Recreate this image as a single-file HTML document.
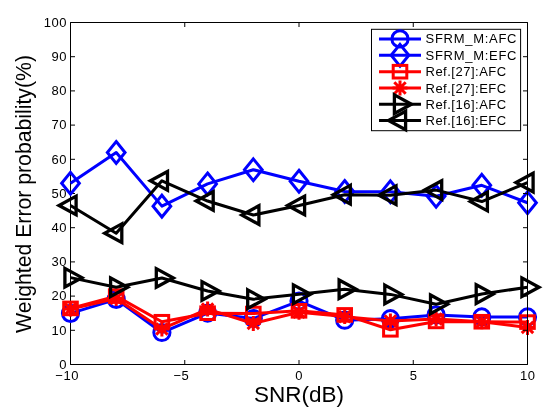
<!DOCTYPE html>
<html><head><meta charset="utf-8"><title>plot</title>
<style>
html,body{margin:0;padding:0;background:#fff;}
#fig{position:relative;width:550px;height:414px;overflow:hidden;background:#fff;font-family:"Liberation Sans",Arial,Helvetica,sans-serif;color:#000;}
.yt{position:absolute;left:21.0px;width:46px;text-align:right;letter-spacing:0.5px;font-size:13px;line-height:16px;height:16px;}
.xt{position:absolute;top:368.2px;width:40px;text-align:center;letter-spacing:0.5px;font-size:13px;line-height:16px;height:16px;}
.lg{position:absolute;left:425.5px;font-size:13px;line-height:16px;height:16px;letter-spacing:0.5px;white-space:nowrap;}
.lg.w{letter-spacing:0.72px;}
#xl{position:absolute;left:199.0px;width:200px;text-align:center;top:381.6px;font-size:22.5px;line-height:26px;white-space:nowrap;}
#yl{position:absolute;left:24px;top:193.5px;width:0;height:0;}
#yl span{position:absolute;display:block;width:320px;left:-160px;top:-13px;height:26px;line-height:26px;text-align:center;font-size:21.5px;white-space:nowrap;transform:rotate(-90deg) scale(0.987,1.06);transform-origin:50% 50%;}
</style></head><body>
<div id="fig">
<svg width="550" height="414" viewBox="0 0 550 414" style="position:absolute;left:0;top:0">
<rect width="550" height="414" fill="#fff"/>
<path d="M70.5 22.5V364.5H527.5" fill="none" stroke="#000" stroke-width="1"/>
<path d="M70.5 364.50h4.5M70.5 330.30h4.5M70.5 296.10h4.5M70.5 261.90h4.5M70.5 227.70h4.5M70.5 193.50h4.5M70.5 159.30h4.5M70.5 125.10h4.5M70.5 90.90h4.5M70.5 56.70h4.5M70.5 22.50h4.5M70.50 364.5v-4.5M184.75 364.5v-4.5M299.00 364.5v-4.5M413.25 364.5v-4.5M527.50 364.5v-4.5" fill="none" stroke="#000" stroke-width="1"/>
<polyline points="70.50,313.37 116.20,299.35 161.90,332.52 207.60,313.03 253.30,318.50 299.00,301.06 344.70,320.21 390.40,318.67 436.10,314.91 481.80,316.96 527.50,316.96" fill="none" stroke="#0000ff" stroke-width="3.0" stroke-linejoin="round"/>
<circle cx="70.50" cy="313.37" r="8.1" fill="none" stroke="#0000ff" stroke-width="3.0"/>
<circle cx="116.20" cy="299.35" r="8.1" fill="none" stroke="#0000ff" stroke-width="3.0"/>
<circle cx="161.90" cy="332.52" r="8.1" fill="none" stroke="#0000ff" stroke-width="3.0"/>
<circle cx="207.60" cy="313.03" r="8.1" fill="none" stroke="#0000ff" stroke-width="3.0"/>
<circle cx="253.30" cy="318.50" r="8.1" fill="none" stroke="#0000ff" stroke-width="3.0"/>
<circle cx="299.00" cy="301.06" r="8.1" fill="none" stroke="#0000ff" stroke-width="3.0"/>
<circle cx="344.70" cy="320.21" r="8.1" fill="none" stroke="#0000ff" stroke-width="3.0"/>
<circle cx="390.40" cy="318.67" r="8.1" fill="none" stroke="#0000ff" stroke-width="3.0"/>
<circle cx="436.10" cy="314.91" r="8.1" fill="none" stroke="#0000ff" stroke-width="3.0"/>
<circle cx="481.80" cy="316.96" r="8.1" fill="none" stroke="#0000ff" stroke-width="3.0"/>
<circle cx="527.50" cy="316.96" r="8.1" fill="none" stroke="#0000ff" stroke-width="3.0"/>
<polyline points="70.50,183.24 116.20,152.46 161.90,206.15 207.60,183.92 253.30,169.73 299.00,181.19 344.70,191.45 390.40,191.79 436.10,196.24 481.80,185.29 527.50,202.73" fill="none" stroke="#0000ff" stroke-width="3.0" stroke-linejoin="round"/>
<path d="M70.50 172.34L79.35 183.24L70.50 194.14L61.65 183.24Z" fill="none" stroke="#0000ff" stroke-width="3.0"/>
<path d="M116.20 141.56L125.05 152.46L116.20 163.36L107.35 152.46Z" fill="none" stroke="#0000ff" stroke-width="3.0"/>
<path d="M161.90 195.25L170.75 206.15L161.90 217.05L153.05 206.15Z" fill="none" stroke="#0000ff" stroke-width="3.0"/>
<path d="M207.60 173.02L216.45 183.92L207.60 194.82L198.75 183.92Z" fill="none" stroke="#0000ff" stroke-width="3.0"/>
<path d="M253.30 158.83L262.15 169.73L253.30 180.63L244.45 169.73Z" fill="none" stroke="#0000ff" stroke-width="3.0"/>
<path d="M299.00 170.29L307.85 181.19L299.00 192.09L290.15 181.19Z" fill="none" stroke="#0000ff" stroke-width="3.0"/>
<path d="M344.70 180.55L353.55 191.45L344.70 202.35L335.85 191.45Z" fill="none" stroke="#0000ff" stroke-width="3.0"/>
<path d="M390.40 180.89L399.25 191.79L390.40 202.69L381.55 191.79Z" fill="none" stroke="#0000ff" stroke-width="3.0"/>
<path d="M436.10 185.34L444.95 196.24L436.10 207.14L427.25 196.24Z" fill="none" stroke="#0000ff" stroke-width="3.0"/>
<path d="M481.80 174.39L490.65 185.29L481.80 196.19L472.95 185.29Z" fill="none" stroke="#0000ff" stroke-width="3.0"/>
<path d="M527.50 191.83L536.35 202.73L527.50 213.63L518.65 202.73Z" fill="none" stroke="#0000ff" stroke-width="3.0"/>
<polyline points="70.50,308.41 116.20,296.10 161.90,321.75 207.60,313.20 253.30,313.54 299.00,310.81 344.70,314.91 390.40,329.79 436.10,321.41 481.80,321.75 527.50,322.09" fill="none" stroke="#ff0000" stroke-width="3.0" stroke-linejoin="round"/>
<rect x="63.70" y="302.11" width="13.6" height="12.6" fill="none" stroke="#ff0000" stroke-width="3.0"/>
<rect x="109.40" y="289.80" width="13.6" height="12.6" fill="none" stroke="#ff0000" stroke-width="3.0"/>
<rect x="155.10" y="315.45" width="13.6" height="12.6" fill="none" stroke="#ff0000" stroke-width="3.0"/>
<rect x="200.80" y="306.90" width="13.6" height="12.6" fill="none" stroke="#ff0000" stroke-width="3.0"/>
<rect x="246.50" y="307.24" width="13.6" height="12.6" fill="none" stroke="#ff0000" stroke-width="3.0"/>
<rect x="292.20" y="304.51" width="13.6" height="12.6" fill="none" stroke="#ff0000" stroke-width="3.0"/>
<rect x="337.90" y="308.61" width="13.6" height="12.6" fill="none" stroke="#ff0000" stroke-width="3.0"/>
<rect x="383.60" y="323.49" width="13.6" height="12.6" fill="none" stroke="#ff0000" stroke-width="3.0"/>
<rect x="429.30" y="315.11" width="13.6" height="12.6" fill="none" stroke="#ff0000" stroke-width="3.0"/>
<rect x="475.00" y="315.45" width="13.6" height="12.6" fill="none" stroke="#ff0000" stroke-width="3.0"/>
<rect x="520.70" y="315.79" width="13.6" height="12.6" fill="none" stroke="#ff0000" stroke-width="3.0"/>
<polyline points="70.50,309.10 116.20,298.49 161.90,328.93 207.60,309.10 253.30,323.46 299.00,312.17 344.70,316.62 390.40,321.07 436.10,319.01 481.80,321.75 527.50,327.39" fill="none" stroke="#ff0000" stroke-width="3.0" stroke-linejoin="round"/>
<path d="M63.00 309.10H78.00M70.50 301.60V316.60M64.80 303.40L76.20 314.80M64.80 314.80L76.20 303.40" fill="none" stroke="#ff0000" stroke-width="3.0"/>
<path d="M108.70 298.49H123.70M116.20 290.99V305.99M110.50 292.79L121.90 304.19M110.50 304.19L121.90 292.79" fill="none" stroke="#ff0000" stroke-width="3.0"/>
<path d="M154.40 328.93H169.40M161.90 321.43V336.43M156.20 323.23L167.60 334.63M156.20 334.63L167.60 323.23" fill="none" stroke="#ff0000" stroke-width="3.0"/>
<path d="M200.10 309.10H215.10M207.60 301.60V316.60M201.90 303.40L213.30 314.80M201.90 314.80L213.30 303.40" fill="none" stroke="#ff0000" stroke-width="3.0"/>
<path d="M245.80 323.46H260.80M253.30 315.96V330.96M247.60 317.76L259.00 329.16M247.60 329.16L259.00 317.76" fill="none" stroke="#ff0000" stroke-width="3.0"/>
<path d="M291.50 312.17H306.50M299.00 304.67V319.67M293.30 306.47L304.70 317.87M293.30 317.87L304.70 306.47" fill="none" stroke="#ff0000" stroke-width="3.0"/>
<path d="M337.20 316.62H352.20M344.70 309.12V324.12M339.00 310.92L350.40 322.32M339.00 322.32L350.40 310.92" fill="none" stroke="#ff0000" stroke-width="3.0"/>
<path d="M382.90 321.07H397.90M390.40 313.57V328.57M384.70 315.37L396.10 326.77M384.70 326.77L396.10 315.37" fill="none" stroke="#ff0000" stroke-width="3.0"/>
<path d="M428.60 319.01H443.60M436.10 311.51V326.51M430.40 313.31L441.80 324.71M430.40 324.71L441.80 313.31" fill="none" stroke="#ff0000" stroke-width="3.0"/>
<path d="M474.30 321.75H489.30M481.80 314.25V329.25M476.10 316.05L487.50 327.45M476.10 327.45L487.50 316.05" fill="none" stroke="#ff0000" stroke-width="3.0"/>
<path d="M520.00 327.39H535.00M527.50 319.89V334.89M521.80 321.69L533.20 333.09M521.80 333.09L533.20 321.69" fill="none" stroke="#ff0000" stroke-width="3.0"/>
<polyline points="70.50,277.63 116.20,287.21 161.90,277.97 207.60,290.97 253.30,299.18 299.00,294.22 344.70,289.26 390.40,294.39 436.10,304.31 481.80,294.05 527.50,287.21" fill="none" stroke="#000" stroke-width="3.0" stroke-linejoin="round"/>
<path d="M64.90 268.33L82.00 277.63L64.90 286.93Z" fill="none" stroke="#000" stroke-width="3.3"/>
<path d="M110.60 277.91L127.70 287.21L110.60 296.51Z" fill="none" stroke="#000" stroke-width="3.3"/>
<path d="M156.30 268.67L173.40 277.97L156.30 287.27Z" fill="none" stroke="#000" stroke-width="3.3"/>
<path d="M202.00 281.67L219.10 290.97L202.00 300.27Z" fill="none" stroke="#000" stroke-width="3.3"/>
<path d="M247.70 289.88L264.80 299.18L247.70 308.48Z" fill="none" stroke="#000" stroke-width="3.3"/>
<path d="M293.40 284.92L310.50 294.22L293.40 303.52Z" fill="none" stroke="#000" stroke-width="3.3"/>
<path d="M339.10 279.96L356.20 289.26L339.10 298.56Z" fill="none" stroke="#000" stroke-width="3.3"/>
<path d="M384.80 285.09L401.90 294.39L384.80 303.69Z" fill="none" stroke="#000" stroke-width="3.3"/>
<path d="M430.50 295.01L447.60 304.31L430.50 313.61Z" fill="none" stroke="#000" stroke-width="3.3"/>
<path d="M476.20 284.75L493.30 294.05L476.20 303.35Z" fill="none" stroke="#000" stroke-width="3.3"/>
<path d="M521.90 277.91L539.00 287.21L521.90 296.51Z" fill="none" stroke="#000" stroke-width="3.3"/>
<polyline points="70.50,205.47 116.20,233.17 161.90,180.85 207.60,201.02 253.30,215.05 299.00,205.47 344.70,194.70 390.40,195.21 436.10,190.08 481.80,201.54 527.50,182.56" fill="none" stroke="#000" stroke-width="3.0" stroke-linejoin="round"/>
<path d="M76.10 196.17L59.00 205.47L76.10 214.77Z" fill="none" stroke="#000" stroke-width="3.3"/>
<path d="M121.80 223.87L104.70 233.17L121.80 242.47Z" fill="none" stroke="#000" stroke-width="3.3"/>
<path d="M167.50 171.55L150.40 180.85L167.50 190.15Z" fill="none" stroke="#000" stroke-width="3.3"/>
<path d="M213.20 191.72L196.10 201.02L213.20 210.32Z" fill="none" stroke="#000" stroke-width="3.3"/>
<path d="M258.90 205.75L241.80 215.05L258.90 224.35Z" fill="none" stroke="#000" stroke-width="3.3"/>
<path d="M304.60 196.17L287.50 205.47L304.60 214.77Z" fill="none" stroke="#000" stroke-width="3.3"/>
<path d="M350.30 185.40L333.20 194.70L350.30 204.00Z" fill="none" stroke="#000" stroke-width="3.3"/>
<path d="M396.00 185.91L378.90 195.21L396.00 204.51Z" fill="none" stroke="#000" stroke-width="3.3"/>
<path d="M441.70 180.78L424.60 190.08L441.70 199.38Z" fill="none" stroke="#000" stroke-width="3.3"/>
<path d="M487.40 192.24L470.30 201.54L487.40 210.84Z" fill="none" stroke="#000" stroke-width="3.3"/>
<path d="M533.10 173.26L516.00 182.56L533.10 191.86Z" fill="none" stroke="#000" stroke-width="3.3"/>
<path d="M70.5 22.5H527.5V364.5" fill="none" stroke="#000" stroke-width="1"/>
<path d="M527.5 364.50h-4.5M527.5 330.30h-4.5M527.5 296.10h-4.5M527.5 261.90h-4.5M527.5 227.70h-4.5M527.5 193.50h-4.5M527.5 159.30h-4.5M527.5 125.10h-4.5M527.5 90.90h-4.5M527.5 56.70h-4.5M527.5 22.50h-4.5M70.50 22.5v4.5M184.75 22.5v4.5M299.00 22.5v4.5M413.25 22.5v4.5M527.50 22.5v4.5" fill="none" stroke="#000" stroke-width="1"/>
<rect x="371.5" y="29.3" width="149.10000000000002" height="101.39999999999999" fill="#fff" stroke="#000" stroke-width="1"/>
<path d="M379 38.9H421" stroke="#0000ff" stroke-width="3.0" fill="none"/>
<circle cx="400.00" cy="38.90" r="8.1" fill="none" stroke="#0000ff" stroke-width="3.0"/>
<path d="M379 55.3H421" stroke="#0000ff" stroke-width="3.0" fill="none"/>
<path d="M400.00 44.40L408.85 55.30L400.00 66.20L391.15 55.30Z" fill="none" stroke="#0000ff" stroke-width="3.0"/>
<path d="M379 71.7H421" stroke="#ff0000" stroke-width="3.0" fill="none"/>
<rect x="393.20" y="65.40" width="13.6" height="12.6" fill="none" stroke="#ff0000" stroke-width="3.0"/>
<path d="M379 88.0H421" stroke="#ff0000" stroke-width="3.0" fill="none"/>
<path d="M392.50 88.00H407.50M400.00 80.50V95.50M394.30 82.30L405.70 93.70M394.30 93.70L405.70 82.30" fill="none" stroke="#ff0000" stroke-width="3.0"/>
<path d="M379 104.2H421" stroke="#000" stroke-width="3.0" fill="none"/>
<path d="M394.40 94.90L411.50 104.20L394.40 113.50Z" fill="none" stroke="#000" stroke-width="3.3"/>
<path d="M379 120.5H421" stroke="#000" stroke-width="3.0" fill="none"/>
<path d="M405.60 111.20L388.50 120.50L405.60 129.80Z" fill="none" stroke="#000" stroke-width="3.3"/>
</svg>
<div class="yt" style="top:356.8px">0</div><div class="yt" style="top:322.6px">10</div><div class="yt" style="top:288.4px">20</div><div class="yt" style="top:254.2px">30</div><div class="yt" style="top:220.0px">40</div><div class="yt" style="top:185.8px">50</div><div class="yt" style="top:151.6px">60</div><div class="yt" style="top:117.4px">70</div><div class="yt" style="top:83.2px">80</div><div class="yt" style="top:49.0px">90</div><div class="yt" style="top:14.8px">100</div><div class="xt" style="left:47.1px">−10</div><div class="xt" style="left:161.4px">−5</div><div class="xt" style="left:279.2px">0</div><div class="xt" style="left:393.5px">5</div><div class="xt" style="left:507.8px">10</div><div class="lg w" style="top:31.4px">SFRM_M:AFC</div><div class="lg w" style="top:47.8px">SFRM_M:EFC</div><div class="lg" style="top:64.2px">Ref.[27]:AFC</div><div class="lg" style="top:80.5px">Ref.[27]:EFC</div><div class="lg" style="top:96.7px">Ref.[16]:AFC</div><div class="lg" style="top:113.0px">Ref.[16]:EFC</div>
<div id="xl">SNR(dB)</div>
<div id="yl"><span>Weighted Error probability(%)</span></div>
</div>
</body></html>
